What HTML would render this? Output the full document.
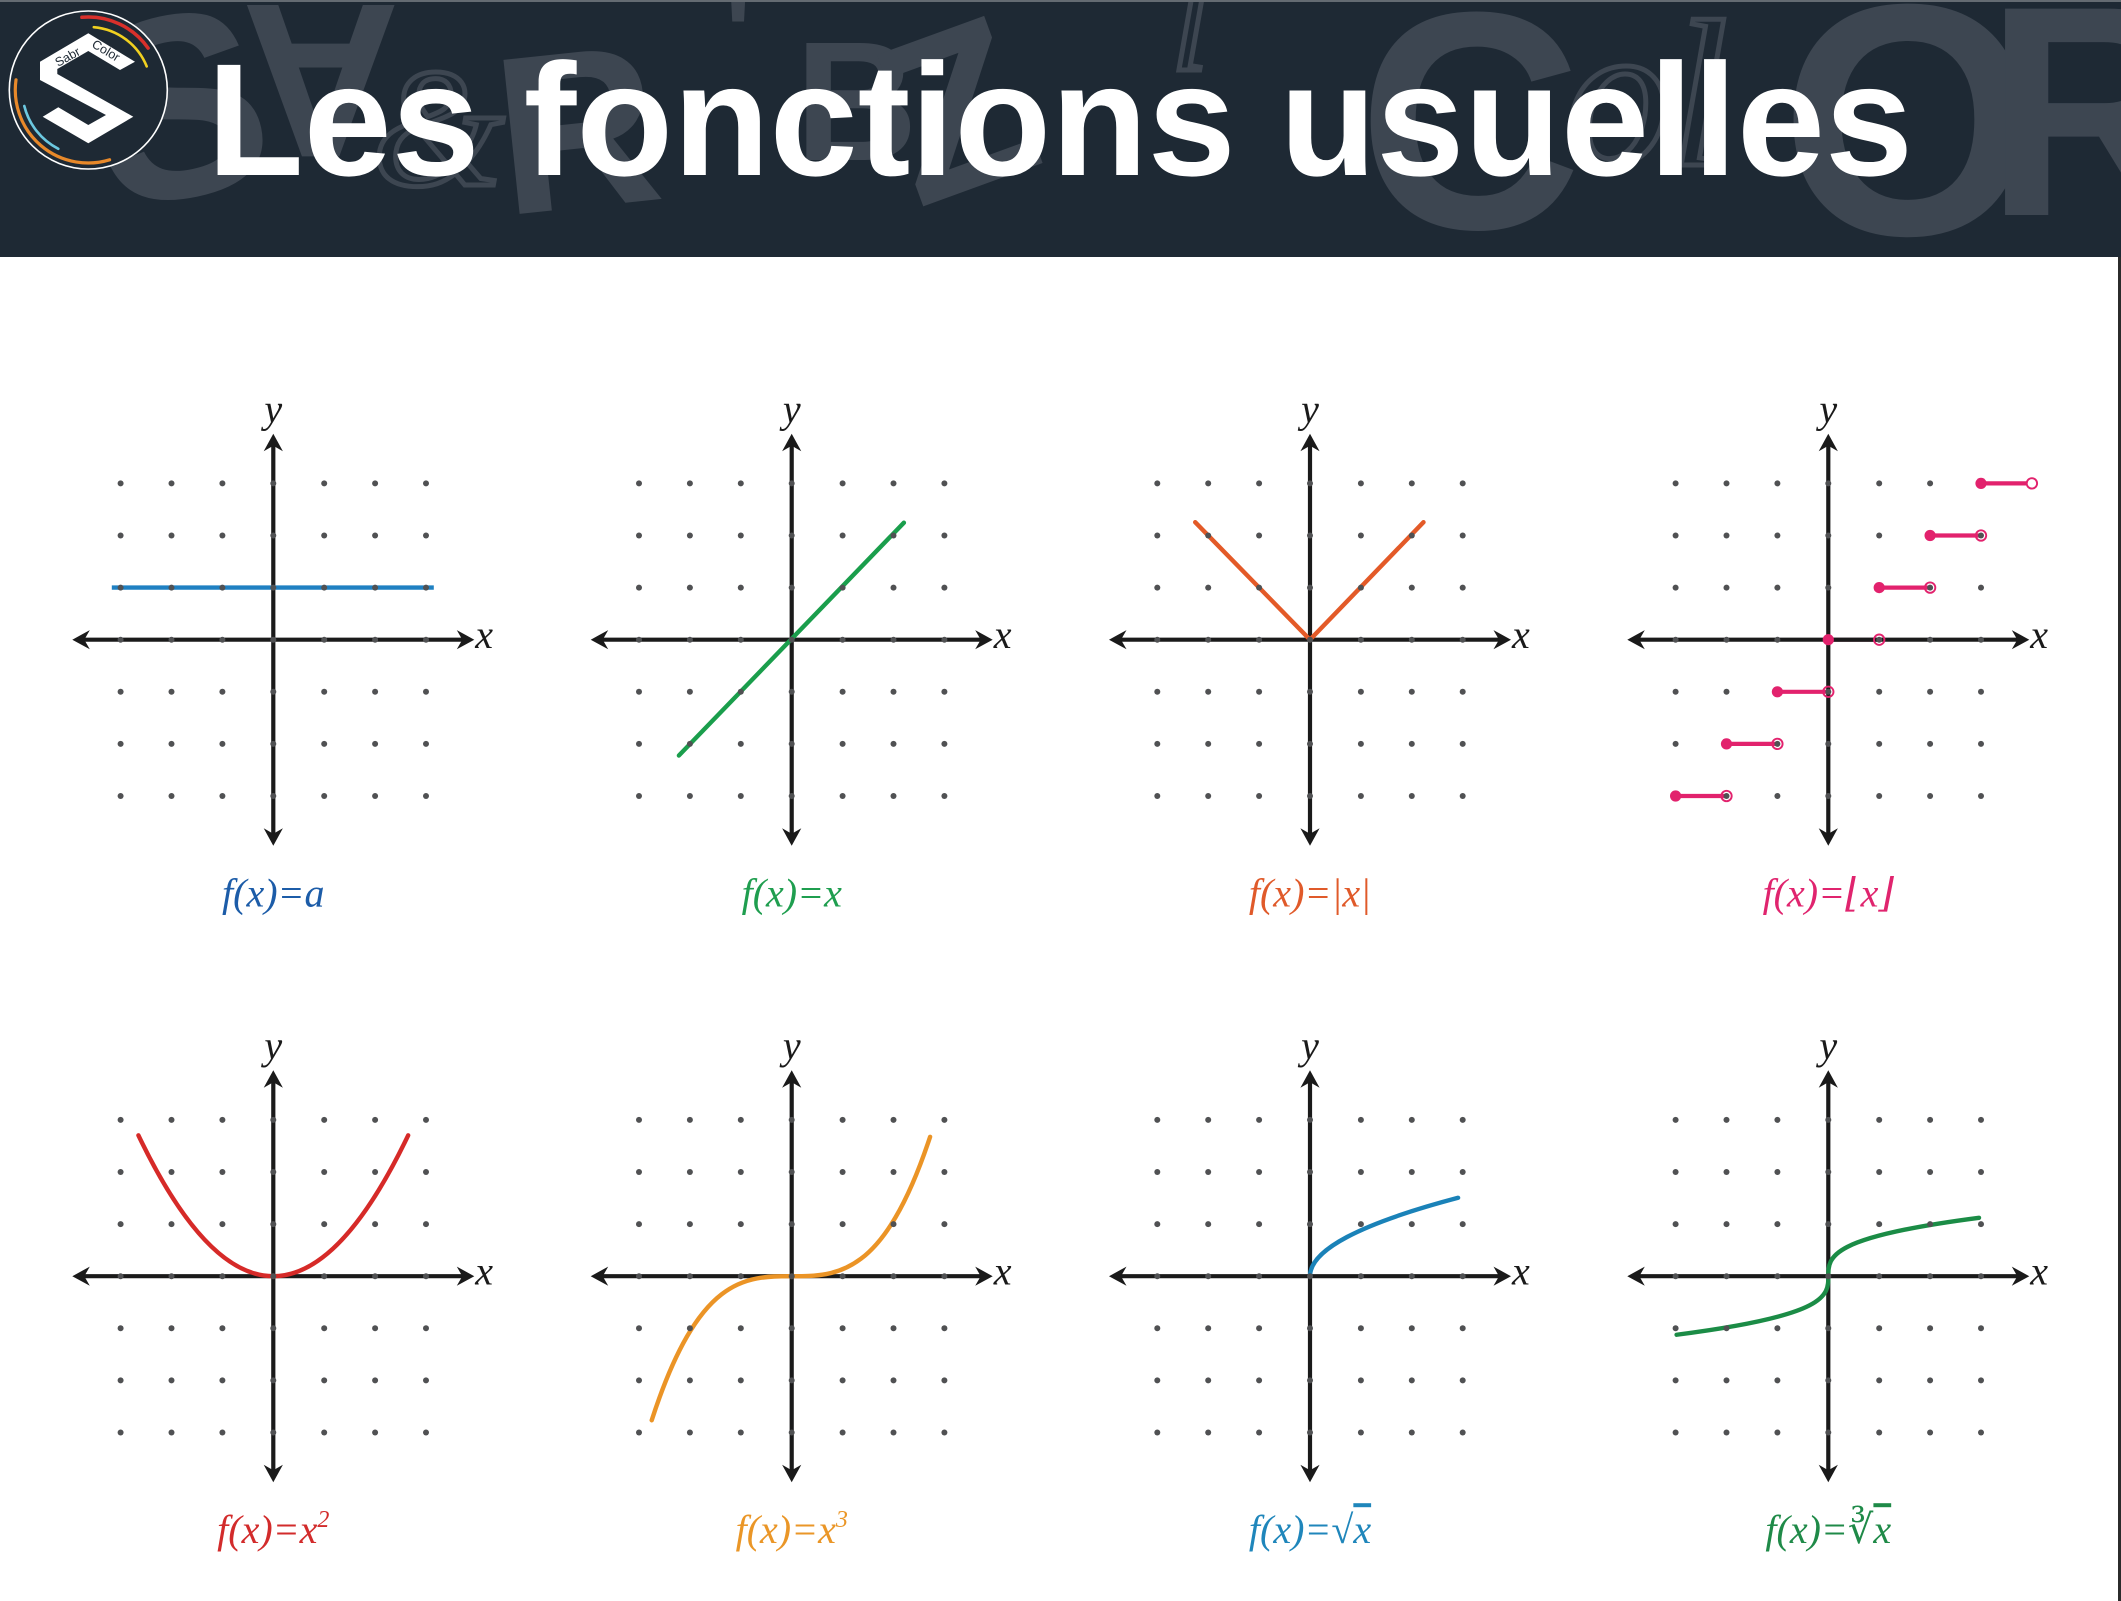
<!DOCTYPE html>
<html>
<head>
<meta charset="utf-8">
<style>
html,body{margin:0;padding:0;background:#fff;}
svg{display:block;}
</style>
</head>
<body>
<svg width="2121" height="1601" viewBox="0 0 2121 1601" xmlns="http://www.w3.org/2000/svg">
<defs>
  <clipPath id="hdr"><rect x="0" y="0" width="2121" height="257"/></clipPath>
  <g id="ax">
    <line x1="-190" y1="0" x2="190" y2="0" stroke="#1a1a1a" stroke-width="4.2"/>
    <line x1="0" y1="-195" x2="0" y2="195" stroke="#1a1a1a" stroke-width="4.2"/>
    <path d="M201,0 L183.5,-9.6 L189,0 L183.5,9.6Z" fill="#1a1a1a"/>
    <path d="M-201,0 L-183.5,-9.6 L-189,0 L-183.5,9.6Z" fill="#1a1a1a"/>
    <path d="M0,-206 L-9.6,-188.5 L0,-194 L9.6,-188.5Z" fill="#1a1a1a"/>
    <path d="M0,206 L-9.6,188.5 L0,194 L9.6,188.5Z" fill="#1a1a1a"/>
  </g>
  <g id="dots" fill="#505153">
    <circle cx="-152.7" cy="-156.3" r="3"/><circle cx="-101.8" cy="-156.3" r="3"/><circle cx="-50.9" cy="-156.3" r="3"/><circle cx="0" cy="-156.3" r="3"/><circle cx="50.9" cy="-156.3" r="3"/><circle cx="101.8" cy="-156.3" r="3"/><circle cx="152.7" cy="-156.3" r="3"/>
    <circle cx="-152.7" cy="-104.2" r="3"/><circle cx="-101.8" cy="-104.2" r="3"/><circle cx="-50.9" cy="-104.2" r="3"/><circle cx="0" cy="-104.2" r="3"/><circle cx="50.9" cy="-104.2" r="3"/><circle cx="101.8" cy="-104.2" r="3"/><circle cx="152.7" cy="-104.2" r="3"/>
    <circle cx="-152.7" cy="-52.1" r="3"/><circle cx="-101.8" cy="-52.1" r="3"/><circle cx="-50.9" cy="-52.1" r="3"/><circle cx="0" cy="-52.1" r="3"/><circle cx="50.9" cy="-52.1" r="3"/><circle cx="101.8" cy="-52.1" r="3"/><circle cx="152.7" cy="-52.1" r="3"/>
    <circle cx="-152.7" cy="0" r="3"/><circle cx="-101.8" cy="0" r="3"/><circle cx="-50.9" cy="0" r="3"/><circle cx="0" cy="0" r="3"/><circle cx="50.9" cy="0" r="3"/><circle cx="101.8" cy="0" r="3"/><circle cx="152.7" cy="0" r="3"/>
    <circle cx="-152.7" cy="52.1" r="3"/><circle cx="-101.8" cy="52.1" r="3"/><circle cx="-50.9" cy="52.1" r="3"/><circle cx="0" cy="52.1" r="3"/><circle cx="50.9" cy="52.1" r="3"/><circle cx="101.8" cy="52.1" r="3"/><circle cx="152.7" cy="52.1" r="3"/>
    <circle cx="-152.7" cy="104.2" r="3"/><circle cx="-101.8" cy="104.2" r="3"/><circle cx="-50.9" cy="104.2" r="3"/><circle cx="0" cy="104.2" r="3"/><circle cx="50.9" cy="104.2" r="3"/><circle cx="101.8" cy="104.2" r="3"/><circle cx="152.7" cy="104.2" r="3"/>
    <circle cx="-152.7" cy="156.3" r="3"/><circle cx="-101.8" cy="156.3" r="3"/><circle cx="-50.9" cy="156.3" r="3"/><circle cx="0" cy="156.3" r="3"/><circle cx="50.9" cy="156.3" r="3"/><circle cx="101.8" cy="156.3" r="3"/><circle cx="152.7" cy="156.3" r="3"/>
  </g>
</defs>

<rect x="0" y="0" width="2121" height="1601" fill="#ffffff"/>

<!-- header -->
<rect x="0" y="0" width="2121" height="257" fill="#1e2934"/>
<g clip-path="url(#hdr)" fill="#3d4651" font-family="Liberation Sans, sans-serif" font-weight="bold">
  <text x="92" y="200" font-size="260" transform="rotate(-12 160 110)">S</text>
  <text x="0" y="0" font-size="220" transform="translate(400,5) rotate(180)">A</text>
  <text x="494" y="208" font-size="225" transform="rotate(-6 570 110)">R</text>
  <text x="725" y="70" font-size="110">'</text>
  <text x="795" y="160" font-size="170">B</text>
  <text x="880" y="180" font-size="230" transform="rotate(-20 980 90)">Z</text>
  <text x="1358" y="228" font-size="310">C</text>
  <text x="1780" y="234" font-size="330">O</text>
  <text x="1985" y="215" font-size="300">R</text>
</g>
<g clip-path="url(#hdr)" fill="none" stroke="#3d4651" stroke-width="5" font-family="Liberation Serif, serif" font-style="italic">
  <text x="372" y="185" font-size="170">&amp;</text>
  <text x="1172" y="70" font-size="130">l</text>
  <text x="1565" y="165" font-size="210">ol</text>
</g>
<rect x="0" y="0" width="2121" height="2" fill="#646b72"/>

<!-- title -->
<text x="207" y="175" font-family="Liberation Sans, sans-serif" font-weight="bold" font-size="160" fill="#ffffff" textLength="1706" lengthAdjust="spacingAndGlyphs">Les fonctions usuelles</text>

<!-- logo -->
<circle cx="88.3" cy="90" r="79" fill="#1e2934" stroke="#ffffff" stroke-width="1.6"/>
<path d="M81.9,17.3 A73,73 0 0 1 148.1,48.1" fill="none" stroke="#d9302b" stroke-width="3.5" stroke-linecap="round"/>
<path d="M93.8,27.2 A63,63 0 0 1 146.7,66.4" fill="none" stroke="#f0d020" stroke-width="2.6" stroke-linecap="round"/>
<path d="M109.6,159.8 A73,73 0 0 1 16.0,79.8" fill="none" stroke="#e8892a" stroke-width="3.2" stroke-linecap="round"/>
<path d="M58.3,148.8 A66,66 0 0 1 24.3,106" fill="none" stroke="#6cc8e0" stroke-width="2.6" stroke-linecap="round"/>
<polygon points="88.3,33.3 135,61.7 120,70 88.3,51 57.3,69 57.3,74 133.3,116.7 88.3,143.3 42.7,116.7 58.3,107.3 88.3,125 106,115 40,80 40,61.7" fill="#ffffff"/>
<text transform="translate(58,67) rotate(-29)" font-family="Liberation Sans, sans-serif" font-size="12.5" fill="#1e2934">Sabr</text>
<text transform="translate(91,46.5) rotate(31)" font-family="Liberation Sans, sans-serif" font-size="12.5" fill="#1e2934">Color</text>

<rect x="2118" y="257" width="3" height="1344" fill="#2b2b2b"/>

<!-- Panel 1 -->
<g transform="translate(273.3,639.7)">
  <use href="#ax"/>
  <line x1="-161.5" y1="-52.1" x2="160.5" y2="-52.1" stroke="#1f80c2" stroke-width="4.4"/>
  <use href="#dots"/>
  <text x="202" y="8.5" font-family="Liberation Serif, serif" font-style="italic" font-size="40" fill="#1a1a1a">x</text>
  <text x="0" y="-217" text-anchor="middle" font-family="Liberation Serif, serif" font-style="italic" font-size="40" fill="#1a1a1a">y</text>
  <text x="0" y="267" text-anchor="middle" font-family="Liberation Serif, serif" font-style="italic" font-size="40" fill="#1c5ca8">f(x)=a</text>
</g>

<!-- Panel 2 -->
<g transform="translate(791.7,639.7)">
  <use href="#ax"/>
  <line x1="-112.8" y1="115.8" x2="112.2" y2="-117" stroke="#1a9e4c" stroke-width="4.4" stroke-linecap="round"/>
  <use href="#dots"/>
  <text x="202" y="8.5" font-family="Liberation Serif, serif" font-style="italic" font-size="40" fill="#1a1a1a">x</text>
  <text x="0" y="-217" text-anchor="middle" font-family="Liberation Serif, serif" font-style="italic" font-size="40" fill="#1a1a1a">y</text>
  <text x="0" y="267" text-anchor="middle" font-family="Liberation Serif, serif" font-style="italic" font-size="40" fill="#1f9e4f">f(x)=x</text>
</g>

<!-- Panel 3 -->
<g transform="translate(1310,639.7)">
  <use href="#ax"/>
  <polyline points="-114.8,-117.5 0,0 113.5,-117.5" fill="none" stroke="#e35a28" stroke-width="4.4" stroke-linecap="round"/>
  <use href="#dots"/>
  <text x="202" y="8.5" font-family="Liberation Serif, serif" font-style="italic" font-size="40" fill="#1a1a1a">x</text>
  <text x="0" y="-217" text-anchor="middle" font-family="Liberation Serif, serif" font-style="italic" font-size="40" fill="#1a1a1a">y</text>
  <text x="0" y="267" text-anchor="middle" font-family="Liberation Serif, serif" font-style="italic" font-size="40" fill="#e05a2a">f(x)=|x|</text>
</g>

<!-- Panel 4 -->
<g transform="translate(1828.3,639.7)">
  <line x1="0" y1="0" x2="50.9" y2="0" stroke="#5a1030" stroke-width="4"/>
  <use href="#ax"/>
  <g stroke="#e2226d" stroke-width="4.2">
    <line x1="-152.7" y1="156.3" x2="-101.8" y2="156.3"/>
    <line x1="-101.8" y1="104.2" x2="-50.9" y2="104.2"/>
    <line x1="-50.9" y1="52.1" x2="0" y2="52.1"/>
    <line x1="50.9" y1="-52.1" x2="101.8" y2="-52.1"/>
    <line x1="101.8" y1="-104.2" x2="152.7" y2="-104.2"/>
    <line x1="152.7" y1="-156.3" x2="203.6" y2="-156.3"/>
  </g>
  <use href="#dots"/>
  <g fill="#e2226d">
    <circle cx="-152.7" cy="156.3" r="5.6"/>
    <circle cx="-101.8" cy="104.2" r="5.6"/>
    <circle cx="-50.9" cy="52.1" r="5.6"/>
    <circle cx="0" cy="0" r="5.6"/>
    <circle cx="50.9" cy="-52.1" r="5.6"/>
    <circle cx="101.8" cy="-104.2" r="5.6"/>
    <circle cx="152.7" cy="-156.3" r="5.6"/>
  </g>
  <g fill="none" stroke="#e2226d" stroke-width="1.9">
    <circle cx="-101.8" cy="156.3" r="5.2"/>
    <circle cx="-50.9" cy="104.2" r="5.2"/>
    <circle cx="0" cy="52.1" r="5.2"/>
    <circle cx="50.9" cy="0" r="5.2"/>
    <circle cx="101.8" cy="-52.1" r="5.2"/>
    <circle cx="152.7" cy="-104.2" r="5.2"/>
    <circle cx="203.6" cy="-156.3" r="5.2" fill="#ffffff"/>
  </g>
  <text x="202" y="8.5" font-family="Liberation Serif, serif" font-style="italic" font-size="40" fill="#1a1a1a">x</text>
  <text x="0" y="-217" text-anchor="middle" font-family="Liberation Serif, serif" font-style="italic" font-size="40" fill="#1a1a1a">y</text>
  <text x="0" y="267" text-anchor="middle" font-family="Liberation Serif, 'DejaVu Serif', serif" font-style="italic" font-size="40" fill="#e0246e">f(x)=⌊x⌋</text>
</g>

<!-- Panel 5 -->
<g transform="translate(273.3,1276.2)">
  <use href="#ax"/>
  <path d="M-134.9,-140.9 Q0,140.9 134.9,-140.9" fill="none" stroke="#d62a28" stroke-width="4.4" stroke-linecap="round"/>
  <use href="#dots"/>
  <text x="202" y="8.5" font-family="Liberation Serif, serif" font-style="italic" font-size="40" fill="#1a1a1a">x</text>
  <text x="0" y="-217" text-anchor="middle" font-family="Liberation Serif, serif" font-style="italic" font-size="40" fill="#1a1a1a">y</text>
  <text x="0" y="267" text-anchor="middle" font-family="Liberation Serif, serif" font-style="italic" font-size="40" fill="#d22b2b">f(x)=x<tspan dy="-16" font-size="24">2</tspan></text>
</g>

<!-- Panel 6 -->
<g transform="translate(791.7,1276.2)">
  <use href="#ax"/>
  <path d="M-140,144.1 C-47.2,-142.5 45.6,141 138.4,-139.4" fill="none" stroke="#eb9426" stroke-width="4.4" stroke-linecap="round"/>
  <use href="#dots"/>
  <text x="202" y="8.5" font-family="Liberation Serif, serif" font-style="italic" font-size="40" fill="#1a1a1a">x</text>
  <text x="0" y="-217" text-anchor="middle" font-family="Liberation Serif, serif" font-style="italic" font-size="40" fill="#1a1a1a">y</text>
  <text x="0" y="267" text-anchor="middle" font-family="Liberation Serif, serif" font-style="italic" font-size="40" fill="#ea9627">f(x)=x<tspan dy="-16" font-size="24">3</tspan></text>
</g>

<!-- Panel 7 -->
<g transform="translate(1310,1276.2)">
  <use href="#ax"/>
  <path d="M0,0 Q0,-39.2 148.1,-78.4" fill="none" stroke="#1a82b8" stroke-width="4.4" stroke-linecap="round"/>
  <use href="#dots"/>
  <text x="202" y="8.5" font-family="Liberation Serif, serif" font-style="italic" font-size="40" fill="#1a1a1a">x</text>
  <text x="0" y="-217" text-anchor="middle" font-family="Liberation Serif, serif" font-style="italic" font-size="40" fill="#1a1a1a">y</text>
  <text x="0" y="267" text-anchor="middle" font-family="Liberation Serif, 'DejaVu Serif', serif" font-style="italic" font-size="40" fill="#1f86bb">f(x)=√<tspan text-decoration="overline">x</tspan></text>
</g>

<!-- Panel 8 -->
<g transform="translate(1828.3,1276.2)">
  <use href="#ax"/>
  <path d="M-151.7,58.55 C151.3,19.56 -150.9,-19.43 150.7,-58.42" fill="none" stroke="#1b8c46" stroke-width="4.4" stroke-linecap="round"/>
  <use href="#dots"/>
  <text x="202" y="8.5" font-family="Liberation Serif, serif" font-style="italic" font-size="40" fill="#1a1a1a">x</text>
  <text x="0" y="-217" text-anchor="middle" font-family="Liberation Serif, serif" font-style="italic" font-size="40" fill="#1a1a1a">y</text>
  <text x="0" y="267" text-anchor="middle" font-family="Liberation Serif, 'DejaVu Serif', serif" font-style="italic" font-size="40" fill="#1f8a48">f(x)=∛<tspan text-decoration="overline">x</tspan></text>
</g>
</svg>
</body>
</html>
